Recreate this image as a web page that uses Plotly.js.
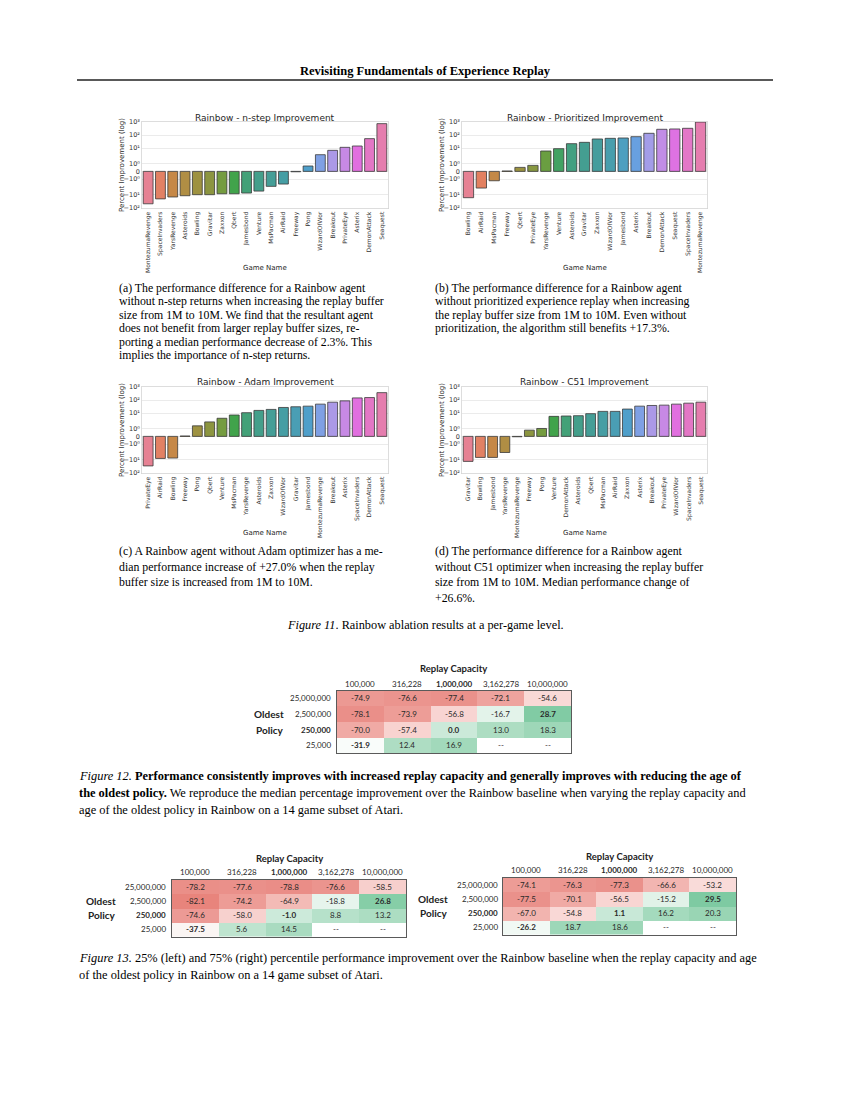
<!DOCTYPE html>
<html><head><meta charset="utf-8">
<script src="https://cdn.plot.ly/plotly-3.0.1.min.js"></script>
<style>html,body{margin:0;padding:0;background:#fff}#page{width:850px;height:1100px}</style>
</head><body><div id="page"></div>
<script>
// ---------------- DATA ----------------
const nstepGames = ['MontezumaRevenge','SpaceInvaders','YarsRevenge','Asteroids','Bowling','Gravitar','Zaxxon','Qbert','Jamesbond','Venture','MsPacman','AirRaid','Freeway','Pong','WizardOfWor','Breakout','PrivateEye','Asterix','DemonAttack','Seaquest'];
const nstepValues = [-50,-21,-15,-12,-10,-10,-8.5,-8.5,-7.5,-5.3,-2.3,-1.65,-0.05,0.7,3.1,6.7,11.4,14.4,53,754];

const prioGames = ['Bowling','AirRaid','MsPacman','Freeway','Qbert','PrivateEye','YarsRevenge','Venture','Asteroids','Gravitar','Zaxxon','WizardOfWor','Jamesbond','Asterix','Breakout','DemonAttack','Seaquest','SpaceInvaders','MontezumaRevenge'];
const prioValues = [-17,-3.1,-1.22,0.05,0.52,0.78,5.95,9.0,21.8,27.6,50,56,59.5,75,136,277,293,330,1000];

const adamGames = ['PrivateEye','AirRaid','Bowling','Freeway','Pong','Qbert','Venture','MsPacman','YarsRevenge','Asteroids','Zaxxon','WizardOfWor','Gravitar','Jamesbond','MontezumaRevenge','Breakout','Asterix','SpaceInvaders','DemonAttack','Seaquest'];
const adamValues = [-30,-8,-7.5,0.05,1.37,2.1,4.0,7.1,10.7,16,19.1,27,30.5,34,48.5,68.6,86.7,146,155,371];

const c51Games = ['Gravitar','Bowling','Jamesbond','YarsRevenge','MontezumaRevenge','Freeway','Pong','Venture','DemonAttack','Asteroids','Qbert','MsPacman','AirRaid','Zaxxon','Asterix','Breakout','PrivateEye','WizardOfWor','SpaceInvaders','Seaquest'];
const c51Values = [-13.5,-6.7,-6.7,-2.8,-0.05,0.81,1.03,5.6,5.95,6.3,9.0,13.5,13.5,20.3,34,38.4,40.7,48.5,57.6,68.6];

const yTickValues = [1000,100,10,1,0,-1,-10,-100];
const yTickText = ['10\u00b3','10\u00b2','10\u00b9','10\u2070','0','\u221210\u2070','\u221210\u00b9','\u221210\u00b2'];

const capacityLabels = ['100,000','316,228','1,000,000','3,162,278','10,000,000'];
const policyLabels = ['25,000,000','2,500,000','250,000','25,000'];
const medianTable = [[-74.9,-76.6,-77.4,-72.1,-54.6],[-78.1,-73.9,-56.8,-16.7,28.7],[-70.0,-57.4,0.0,13.0,18.3],[-31.9,12.4,16.9,null,null]];
const p25Table = [[-78.2,-77.6,-78.8,-76.6,-58.5],[-82.1,-74.2,-64.9,-18.8,26.8],[-74.6,-58.0,-1.0,8.8,13.2],[-37.5,5.6,14.5,null,null]];
const p75Table = [[-74.1,-76.3,-77.3,-66.6,-53.2],[-77.5,-70.1,-56.5,-15.2,29.5],[-67.0,-54.8,1.1,16.2,20.3],[-26.2,18.7,18.6,null,null]];
const boldCells = [[3,0],[2,2],[1,4]];
const boldCapacity = 2, boldPolicy = 2;

// ---------------- HELPERS ----------------
const W = 850, H = 1100;
const X = px => px / W;
const Y = py => 1 - py / H;

// symmetric log transform (matplotlib-like symlog)
const LT = 1.75, LS = 1.0325;
function sym(v){ const a = Math.abs(v), s = Math.sign(v); const t = a <= LT ? a / LT * LS : LS + Math.log10(a / LT); return s * t; }

// seaborn husl palette + barplot desaturation
const MM = [[3.2406,-1.5372,-0.4986],[-0.9689,1.8758,0.0415],[0.0557,-0.2040,1.0570]];
const refU = 0.19784, refV = 0.46834, kappa = 903.2962962, eps = 0.0088564516;
function maxChroma(L, Hh){
  const hr = Hh / 360 * 2 * Math.PI, sinH = Math.sin(hr), cosH = Math.cos(hr);
  const sub1 = Math.pow(L + 16, 3) / 1560896; const sub2 = sub1 > 0.008856 ? sub1 : L / 903.3;
  let res = Infinity;
  for (const [m1,m2,m3] of MM){
    const top = (0.99915*m1 + 1.05122*m2 + 1.14460*m3) * sub2;
    const rb = 0.86330*m3 - 0.17266*m2, lb = 0.12949*m3 - 0.38848*m1;
    const bottom = (rb*sinH + lb*cosH) * sub2;
    for (const t of [0,1]){ const C = L*(top - 1.05122*t)/(bottom + 0.17266*sinH*t); if (C > 0 && C < res) res = C; }
  }
  return res;
}
function huslToRgb(Hh, S, L){
  const C = maxChroma(L, Hh) / 100 * S;
  const hr = Hh / 360 * 2 * Math.PI, U = C*Math.cos(hr), V = C*Math.sin(hr);
  const t = (L + 16) / 116, t3 = t*t*t; const varY = t3 > eps ? t3 : (116*t - 16)/kappa;
  const vU = U/(13*L) + refU, vV = V/(13*L) + refV;
  const Yy = varY, Xx = -(9*Yy*vU)/((vU - 4)*vV - vU*vV), Zz = (9*Yy - 15*vV*Yy - vV*Xx)/(3*vV);
  return MM.map(r => { const c = r[0]*Xx + r[1]*Yy + r[2]*Zz; const g = c <= 0.0031308 ? 12.92*c : 1.055*Math.pow(c, 1/2.4) - 0.055; return Math.min(1, Math.max(0, g)); });
}
function palette(n){
  const out = [];
  for (let i = 0; i < n; i++){
    const h = ((i / n) + 0.01) % 1 * 359;
    let rgb = huslToRgb(h, 0.9*99, 0.65*99);
    const l = (Math.max(...rgb) + Math.min(...rgb)) / 2;
    rgb = rgb.map(c => l + (c - l) * 0.75);
    out.push('rgb(' + rgb.map(c => Math.round(c*255)).join(',') + ')');
  }
  return out;
}

const data = [];
const layout = {
  width: W, height: H, margin: {l:0, r:0, t:0, b:0},
  paper_bgcolor: '#ffffff', plot_bgcolor: '#ffffff', showlegend: false,
  annotations: [], shapes: []
};

const CHART_FONT = 'DejaVu Sans';
const SERIF = 'Liberation Serif';
const TFONT = 'Lato';

function addBar(n, games, values, x0, x1, y0, y1, title){
  const s = n === 1 ? '' : String(n);
  data.push({type:'bar', x: games, y: values.map(sym), xaxis: 'x'+s, yaxis: 'y'+s, width: 0.8,
    marker: {color: palette(games.length), line: {color: '#3a3a3a', width: 0.8}}, hoverinfo: 'skip'});
  layout['xaxis'+s] = {domain: [X(x0), X(x1)], anchor: 'y'+s, type: 'category', range: [-0.5, games.length - 0.5],
    tickmode: 'array', tickvals: games, ticktext: games, tickangle: -90,
    tickfont: {family: CHART_FONT, size: 6, color: '#333'}, showgrid: false, zeroline: false,
    showline: true, mirror: true, linecolor: '#d4d4d4', linewidth: 0.8, ticks: '', automargin: false, fixedrange: true};
  layout['yaxis'+s] = {domain: [Y(y1), Y(y0)], anchor: 'x'+s, range: [-2.85, 3.83],
    tickmode: 'array', tickvals: yTickValues.map(sym), ticktext: yTickText,
    tickfont: {family: CHART_FONT, size: 6.5, color: '#333'}, showgrid: true, gridcolor: '#e6e6e6', gridwidth: 0.8,
    zeroline: false, showline: true, mirror: true, linecolor: '#d4d4d4', linewidth: 0.8, ticks: '', automargin: false, fixedrange: true};
  const cx = (x0 + x1) / 2;
  layout.annotations.push({text: title, xref: 'paper', yref: 'paper', x: X(cx), y: Y(y0 - 4), xanchor: 'center', yanchor: 'middle', showarrow: false, font: {family: CHART_FONT, size: 9, color: '#262626'}});
  layout.annotations.push({text: 'Percent Improvement (log)', xref: 'paper', yref: 'paper', x: X(x0 - 20), y: Y((y0 + y1) / 2), textangle: -90, xanchor: 'center', yanchor: 'middle', showarrow: false, font: {family: CHART_FONT, size: 7, color: '#262626'}});
  layout.annotations.push({text: 'Game Name', xref: 'paper', yref: 'paper', x: X(cx), y: Y(y1 + 59), xanchor: 'center', yanchor: 'middle', showarrow: false, font: {family: CHART_FONT, size: 7, color: '#262626'}});
}

addBar(1, nstepGames, nstepValues, 142, 388, 121.5, 208.5, 'Rainbow - n-step Improvement');
addBar(2, prioGames, prioValues, 462, 707, 121.5, 208.5, 'Rainbow - Prioritized Improvement');
addBar(3, adamGames, adamValues, 142, 388, 386.5, 473.5, 'Rainbow - Adam Improvement');
addBar(4, c51Games, c51Values, 462, 707, 386.5, 473.5, 'Rainbow - C51 Improvement');

// heatmap tables
const cs = [[0,'#e67c73'],[0.058,'#ea8f89'],[0.083,'#ec9993'],[0.125,'#f0aaa5'],[0.233,'#f8d4d1'],[0.333,'#fcebea'],[0.442,'#f9fcfa'],[0.567,'#e3f3ea'],[0.708,'#cbe9d9'],[0.833,'#a8dbbf'],[0.95,'#80cba3'],[1,'#6cc296']];
function addTable(n, z, x0, x1, y0, y1, titleY, headY, labelRight, oldestRight){
  const s = String(n);
  data.push({type: 'heatmap', z: z, x: capacityLabels.map((_, i) => i), y: policyLabels.map((_, i) => i), xaxis: 'x'+s, yaxis: 'y'+s,
    colorscale: cs, zmin: -85, zmax: 35, showscale: false, hoverinfo: 'skip', xgap: 0, ygap: 0});
  layout['xaxis'+s] = {domain: [X(x0), X(x1)], anchor: 'y'+s, range: [-0.5, 4.5], showticklabels: false, showgrid: false, zeroline: false, showline: true, mirror: true, linecolor: '#5a5a5a', linewidth: 1, ticks: '', automargin: false, fixedrange: true};
  layout['yaxis'+s] = {domain: [Y(y1), Y(y0)], anchor: 'x'+s, range: [3.5, -0.5], showticklabels: false, showgrid: false, zeroline: false, showline: true, mirror: true, linecolor: '#5a5a5a', linewidth: 1, ticks: '', automargin: false, fixedrange: true};
  const f = {family: TFONT, size: 8, color: '#2a2a2a'};
  z.forEach((row, r) => row.forEach((v, c) => {
    const bold = boldCells.some(b => b[0] === r && b[1] === c);
    let t = v === null ? '--' : v.toFixed(1);
    if (bold) t = '<b>' + t + '</b>';
    layout.annotations.push({text: t, xref: 'x'+s, yref: 'y'+s, x: c, y: r, xanchor: 'center', yanchor: 'middle', showarrow: false, font: f});
  }));
  capacityLabels.forEach((lab, c) => {
    layout.annotations.push({text: c === boldCapacity ? '<b>' + lab + '</b>' : lab, xref: 'x'+s, yref: 'paper', x: c, y: Y(headY), xanchor: 'center', yanchor: 'middle', showarrow: false, font: f});
  });
  policyLabels.forEach((lab, r) => {
    layout.annotations.push({text: r === boldPolicy ? '<b>' + lab + '</b>' : lab, xref: 'paper', yref: 'y'+s, x: X(labelRight), y: r, xanchor: 'right', yanchor: 'middle', showarrow: false, font: f});
  });
  layout.annotations.push({text: '<b>Replay Capacity</b>', xref: 'paper', yref: 'paper', x: X((x0 + x1) / 2), y: Y(titleY), xanchor: 'center', yanchor: 'middle', showarrow: false, font: {family: TFONT, size: 9.5, color: '#222'}});
  const rowH = (y1 - y0) / 4;
  layout.annotations.push({text: '<b>Oldest</b>', xref: 'paper', yref: 'paper', x: X(oldestRight), y: Y(y0 + rowH * 1.5), xanchor: 'right', yanchor: 'middle', showarrow: false, font: {family: TFONT, size: 10, color: '#222'}});
  layout.annotations.push({text: '<b>Policy</b>', xref: 'paper', yref: 'paper', x: X(oldestRight), y: Y(y0 + rowH * 2.5), xanchor: 'right', yanchor: 'middle', showarrow: false, font: {family: TFONT, size: 10, color: '#222'}});
}
addTable(5, medianTable, 337, 571, 690.5, 753, 668, 684, 333, 286);
addTable(6, p25Table, 172, 406, 880, 936.5, 858, 872, 168, 118);
addTable(7, p75Table, 503, 736, 878, 934.5, 856, 870, 500, 450);

// page text
function txt(t, x, y, size, anchor){
  layout.annotations.push({text: t, xref: 'paper', yref: 'paper', x: X(x), y: Y(y), xanchor: anchor || 'left', yanchor: 'middle', showarrow: false, font: {family: SERIF, size: size, color: '#000'}});
}
txt('<b>Revisiting Fundamentals of Experience Replay</b>', 425, 71, 12.5, 'center');
layout.shapes.push({type: 'line', xref: 'paper', yref: 'paper', x0: X(77), x1: X(773), y0: Y(80), y1: Y(80), line: {color: '#222', width: 1.6}});

const capA = ['(a) The performance difference for a Rainbow agent','without n-step returns when increasing the replay buffer','size from 1M to 10M. We find that the resultant agent','does not benefit from larger replay buffer sizes, re-','porting a median performance decrease of 2.3%. This','implies the importance of n-step returns.'];
const capB = ['(b) The performance difference for a Rainbow agent','without prioritized experience replay when increasing','the replay buffer size from 1M to 10M. Even without','prioritization, the algorithm still benefits +17.3%.'];
const capC = ['(c) A Rainbow agent without Adam optimizer has a me-','dian performance increase of +27.0% when the replay','buffer size is increased from 1M to 10M.'];
const capD = ['(d) The performance difference for a Rainbow agent','without C51 optimizer when increasing the replay buffer','size from 1M to 10M. Median performance change of','+26.6%.'];
capA.forEach((l, i) => txt(l, 117, 288 + i * 13.4, 11.8));
capB.forEach((l, i) => txt(l, 433, 288 + i * 13.4, 11.8));
capC.forEach((l, i) => txt(l, 117, 551 + i * 15.6, 11.8));
capD.forEach((l, i) => txt(l, 433, 551 + i * 15.6, 11.8));
txt('<i>Figure 11</i>. Rainbow ablation results at a per-game level.', 425, 625, 12.3, 'center');

const cap12 = ['<i>Figure 12.</i> <b>Performance consistently improves with increased replay capacity and generally improves with reducing the age of</b>','<b>the oldest policy.</b> We reproduce the median percentage improvement over the Rainbow baseline when varying the replay capacity and','age of the oldest policy in Rainbow on a 14 game subset of Atari.'];
cap12.forEach((l, i) => txt(l, 77, 776 + i * 17, 12.4));
const cap13 = ['<i>Figure 13.</i> 25% (left) and 75% (right) percentile performance improvement over the Rainbow baseline when the replay capacity and age','of the oldest policy in Rainbow on a 14 game subset of Atari.'];
cap13.forEach((l, i) => txt(l, 77, 958 + i * 17, 12.4));

Plotly.newPlot('page', data, layout, {staticPlot: true, displayModeBar: false});
</script>
</body></html>
